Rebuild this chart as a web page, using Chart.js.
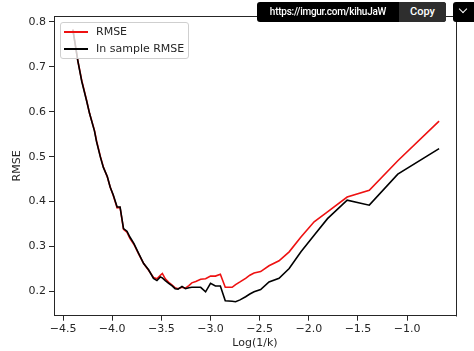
<!DOCTYPE html>
<html><head><meta charset="utf-8">
<script src="https://cdn.jsdelivr.net/npm/chart.js@4.4.0/dist/chart.umd.min.js"></script>
<style>
html,body{margin:0;padding:0;background:#fff;}
#wrap{position:relative;width:474px;height:351px;overflow:hidden;font-family:"DejaVu Sans",sans-serif;}
canvas{display:block;}
#legend{position:absolute;left:60px;top:22px;width:129px;height:37px;background:rgba(255,255,255,0.8);border:1px solid #cfcfcf;border-radius:3px;box-sizing:border-box;}
.row{position:absolute;left:0;height:16px;font-size:11px;color:#262626;}
.row .ln{position:absolute;left:3px;top:7px;width:24px;height:2px;}
.row .tx{position:absolute;left:35px;top:0;white-space:nowrap;line-height:16px;}
#bar{position:absolute;left:257px;top:2px;width:189px;height:20px;background:#000;border-radius:3px;overflow:hidden;font-family:Roboto,"Liberation Sans",sans-serif;font-size:10px;font-weight:500;letter-spacing:-0.25px;color:#fff;}
#bar .url{position:absolute;left:0;top:0;width:142px;height:20px;line-height:20px;text-align:center;}
#bar .copy{position:absolute;left:142px;top:0;width:47px;height:20px;line-height:20px;text-align:center;background:#2e2e2e;font-size:11px;letter-spacing:0;}
#drop{position:absolute;left:453px;top:2px;width:24px;height:20px;background:#000;border-radius:3px;color:#fff;}
#drop .chev{position:absolute;left:7px;top:4px;width:5px;height:5px;border-right:1.5px solid #fff;border-bottom:1.5px solid #fff;transform:rotate(45deg);}
</style></head><body>
<div id="wrap"><canvas id="c" width="474" height="351"></canvas>
<div id="legend"></div>
<div id="bar"><div class="url">https://imgur.com/kihuJaW</div><div class="copy">Copy</div></div>
<div id="drop"><div class="chev"></div></div>
</div>
<script>
const logK = [-4.40,-4.37,-4.35,-4.31,-4.26,-4.23,-4.18,-4.16,-4.12,-4.09,-4.05,-4.02,-3.99,-3.95,-3.92,-3.885,-3.85,-3.82,-3.78,-3.73,-3.68,-3.63,-3.58,-3.545,-3.51,-3.49,-3.46,-3.425,-3.39,-3.36,-3.33,-3.29,-3.255,-3.22,-3.19,-3.15,-3.10,-3.05,-3.00,-2.95,-2.90,-2.85,-2.78,-2.745,-2.70,-2.643,-2.60,-2.557,-2.49,-2.405,-2.303,-2.20,-2.08,-1.946,-1.81,-1.61,-1.385,-1.095,-0.675];
const rmse = [0.783,0.742,0.714,0.670,0.625,0.596,0.558,0.536,0.500,0.477,0.455,0.432,0.414,0.386,0.387,0.338,0.332,0.318,0.305,0.283,0.262,0.247,0.231,0.228,0.236,0.240,0.228,0.220,0.214,0.208,0.206,0.209,0.207,0.213,0.219,0.222,0.227,0.228,0.234,0.234,0.238,0.209,0.209,0.215,0.221,0.229,0.236,0.241,0.244,0.257,0.268,0.288,0.321,0.355,0.377,0.410,0.425,0.491,0.579];
const inSampleRmse = [0.783,0.742,0.714,0.668,0.624,0.596,0.557,0.534,0.499,0.476,0.456,0.432,0.415,0.388,0.388,0.340,0.334,0.321,0.307,0.284,0.262,0.248,0.229,0.224,0.232,0.230,0.224,0.218,0.212,0.206,0.205,0.211,0.206,0.208,0.209,0.209,0.209,0.199,0.218,0.212,0.212,0.179,0.178,0.177,0.181,0.188,0.194,0.199,0.204,0.221,0.229,0.251,0.288,0.325,0.362,0.403,0.392,0.461,0.518];
const seriesNames = ['RMSE','In sample RMSE'];
const seriesColors = ['#ee1111','#000000'];
const xTicks = [-4.5,-4.0,-3.5,-3.0,-2.5,-2.0,-1.5,-1.0];
const yTicks = [0.2,0.3,0.4,0.5,0.6,0.7,0.8];
const xLabel = 'Log(1/k)';
const yLabel = 'RMSE';

const fmt = v => (v < 0 ? '\u2212' : '') + Math.abs(v).toFixed(1);
const axisColor = '#262626';
const tickFont = {family:'DejaVu Sans', size:11};

const framePlugin = {
  id:'frame',
  afterDraw(chart){
    const {ctx, chartArea:a} = chart;
    ctx.save();
    ctx.strokeStyle = axisColor;
    ctx.lineWidth = 1;
    ctx.beginPath();
    ctx.moveTo(Math.round(a.left)+0.5, Math.round(a.top)+0.5);
    ctx.lineTo(Math.round(a.right)+0.5, Math.round(a.top)+0.5);
    ctx.lineTo(Math.round(a.right)+0.5, Math.round(a.bottom)+0.5);
    ctx.stroke();
    ctx.restore();
  }
};

const chart = new Chart(document.getElementById('c'), {
  type:'line',
  data:{
    datasets:[
      {label:seriesNames[0], data:logK.map((x,i)=>({x, y:rmse[i]})), borderColor:seriesColors[0], borderWidth:1.6, pointRadius:0, tension:0, fill:false, order:1},
      {label:seriesNames[1], data:logK.map((x,i)=>({x, y:inSampleRmse[i]})), borderColor:seriesColors[1], borderWidth:1.6, pointRadius:0, tension:0, fill:false, order:0}
    ]
  },
  options:{
    responsive:false, animation:false, devicePixelRatio:1,
    layout:{padding:{left:0, top:16, right:18, bottom:0}},
    plugins:{legend:{display:false}, tooltip:{enabled:false}},
    scales:{
      x:{
        type:'linear', min:-4.592, max:-0.503,
        afterBuildTicks:s=>{ s.ticks = xTicks.map(v=>({value:v})); },
        afterFit:s=>{ s.height = 35.3; },
        ticks:{font:tickFont, color:axisColor, padding:2, maxRotation:0, autoSkip:false, callback:v=>fmt(v)},
        grid:{drawOnChartArea:false, drawTicks:true, tickLength:5, color:axisColor, tickWidth:1},
        border:{display:true, color:axisColor, width:1},
        title:{display:true, text:xLabel, color:axisColor, font:{family:'DejaVu Sans', size:11}, padding:{top:0, bottom:1}}
      },
      y:{
        type:'linear', min:0.1458, max:0.8133,
        afterBuildTicks:s=>{ s.ticks = yTicks.map(v=>({value:v})); },
        afterFit:s=>{ s.width = 54; },
        ticks:{font:tickFont, color:axisColor, padding:3, autoSkip:false, callback:v=>fmt(v)},
        grid:{drawOnChartArea:false, drawTicks:true, tickLength:5, color:axisColor, tickWidth:1},
        border:{display:true, color:axisColor, width:1},
        title:{display:true, text:yLabel, color:axisColor, font:{family:'DejaVu Sans', size:11}, padding:{top:10.4, bottom:0}}
      }
    }
  },
  plugins:[framePlugin]
});

const leg = document.getElementById('legend');
seriesNames.forEach((n,i)=>{
  const r = document.createElement('div');
  r.className = 'row';
  r.style.top = (i===0 ? 1 : 18) + 'px';
  const ln = document.createElement('span');
  ln.className = 'ln';
  ln.style.background = seriesColors[i];
  const tx = document.createElement('span');
  tx.className = 'tx';
  tx.textContent = n;
  r.appendChild(ln); r.appendChild(tx);
  leg.appendChild(r);
});
</script>
</body></html>
